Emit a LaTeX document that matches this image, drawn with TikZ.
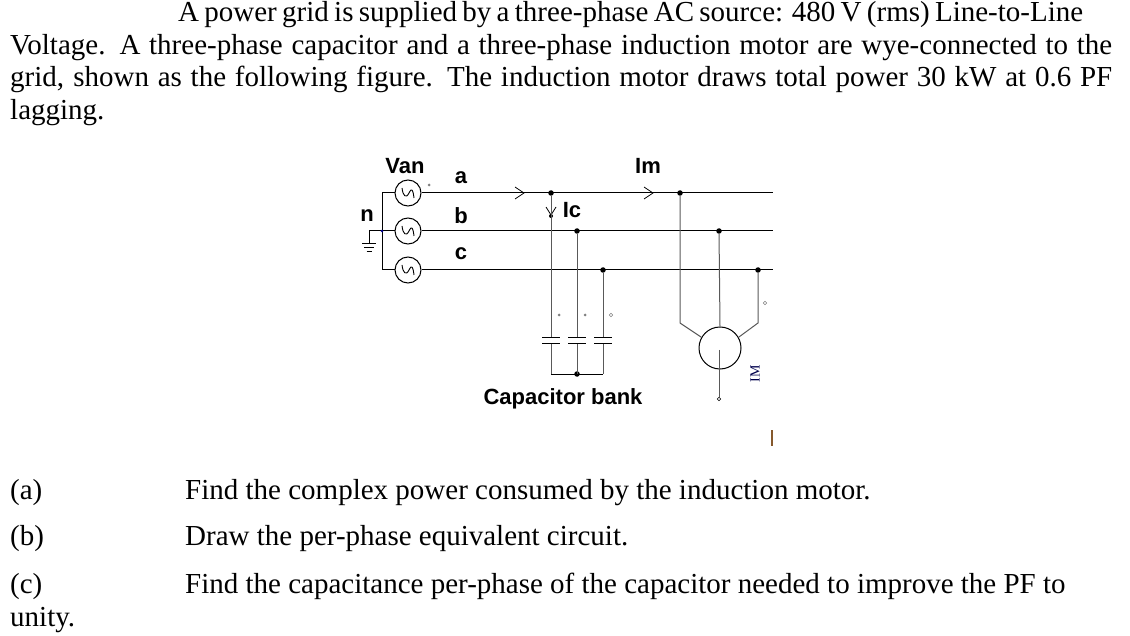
\documentclass[tikz,border=0pt]{standalone}
\usepackage{fontspec}
\setmainfont{Liberation Serif}
\newfontfamily\arialf{Liberation Sans}
\begin{document}
\begin{tikzpicture}[x=1pt,y=-1pt,
  txt/.style={anchor=base west,inner sep=0pt,font=\fontsize{29}{32}\selectfont},
  lbl/.style={inner sep=0pt,font=\arialf\bfseries\fontsize{22}{24}\selectfont},
  wire/.style={line width=1pt},
  dot/.style={circle,fill,inner sep=0pt,minimum size=5.5pt},
  term/.style={circle,draw,inner sep=0pt,minimum size=3.5pt,line width=0.6pt},
  src/.style={circle,draw,line width=1pt,minimum size=26pt,inner sep=0pt}]
\useasboundingbox (0,0) rectangle (1130,636);
% paragraph
\node[txt] (l1) at (178,22) {\makebox[905pt][s]{A power grid is supplied by a three-phase AC source: 480 V (rms) Line-to-Line}};
\node[txt] (l2) at (10,55) {\makebox[1102pt][s]{Voltage. A three-phase capacitor and a three-phase induction motor are wye-connected to the}};
\node[txt] (l3) at (10,87) {\makebox[1102pt][s]{grid, shown as the following figure. The induction motor draws total power 30 kW at 0.6 PF}};
\node[txt] (l4) at (10,120) {lagging.};
% questions
\node[txt] (qa) at (10,499) {(a)};
\node[txt] (ta) at (185,499) {Find the complex power consumed by the induction motor.};
\node[txt] (qb) at (10,545) {(b)};
\node[txt] (tb) at (185,545) {Draw the per-phase equivalent circuit.};
\node[txt] (qc) at (10,593) {(c)};
\node[txt] (tc) at (185,593) {Find the capacitance per-phase of the capacitor needed to improve the PF to};
\node[txt] (qd) at (10,626) {unity.};
% sources
\foreach \n/\y in {sa/193,sb/231,sc/270}{
  \node[src] (\n) at (408,\y) {};
  \draw[line width=0.9pt] ([xshift=-6pt,yshift=5pt]\n.center) .. controls +(1pt,-8pt) and +(-3pt,-6pt) .. ([xshift=1pt]\n.center) .. controls +(3pt,6pt) and +(-1pt,8pt) .. ([xshift=6pt,yshift=-5pt]\n.center);
}
\coordinate (nt) at (382,193);
\coordinate (nb) at (382,270);
\coordinate (nn) at (382,231);
\coordinate (g0) at (369,231);
\coordinate (g1) at (369,244);
\draw[wire] (sa.west) -- (nt) -- (nb) -- (sc.west);
\draw[wire] (sb.west) -- (nn);
\draw[wire] (nn) -- (g0) -- (g1);
\draw[wire] (362,244) -- (376,244) (364,248) -- (374,248) (366.5,252) -- (371.5,252);
\fill[blue!60!black] (nn) circle (1.3pt);
% lines
\coordinate (ea) at (773,193);
\coordinate (eb) at (773,231);
\coordinate (ec) at (773,270);
\draw[wire] (sa.east) -- (ea);
\draw[wire] (sb.east) -- (eb);
\draw[wire] (sc.east) -- (ec);
\draw[line width=0.8pt] (515,187) -- (524,193) -- (515,199);
\draw[line width=0.8pt] (644,187) -- (653,193) -- (644,199);
\node[circle,fill=gray,inner sep=0pt,minimum size=3pt] (sd) at (429,185) {};
% capacitors
\node[dot] (ca) at (551,193) {};
\node[dot] (cb) at (577,231) {};
\node[dot] (cc) at (603,270) {};
\node[dot] (cn) at (577,374) {};
\node[circle,fill,inner sep=0pt,minimum size=4pt] (ic) at (551,216) {};
\draw[line width=0.8pt] (546,207) -- (551,215) -- (556,207);
\foreach \c/\x in {ca/551,cb/577,cc/603}{
  \draw[wire,gray!70!black] (\c) -- (\x,338);
  \draw[wire] (\x-9,338) -- (\x+9,338) (\x-9,344) -- (\x+9,344);
  \draw[wire,gray!70!black] (\x,344) -- (\x,374);
}
\draw[wire] (551,374) -- (603,374);
\node[circle,fill=gray,inner sep=0pt,minimum size=3pt] (m1) at (559,315) {};
\node[circle,fill=gray,inner sep=0pt,minimum size=3pt] (m2) at (585,315) {};
\node[term,gray] (m3) at (611,315) {};
% motor
\node[dot] (ma) at (680,193) {};
\node[dot] (mb) at (719,231) {};
\node[dot] (mc) at (758,270) {};
\node[circle,draw,line width=1pt,minimum size=42pt,inner sep=0pt] (mot) at (720,348) {};
\draw[wire,gray!70!black] (ma) -- (680,323) -- (mot.150);
\draw[wire,gray!70!black] (mb) -- (mot.north);
\draw[wire,gray!70!black] (mc) -- (758,323) -- (mot.30);
\node[term] (mt) at (719,399) {};
\draw[wire,gray!70!black] (719,350) -- (mt);
\node[term,gray] (m4) at (765,303) {};
\node[inner sep=0pt,rotate=90,font=\fontsize{14}{15}\selectfont,text=blue!30!black] (im) at (755,374) {IM};
\draw[line width=1.2pt,brown!70!black] (772,430) -- (772,446);
% labels
\node[lbl] (tvan) at (405,166) {Van};
\node[lbl] (ta1) at (461,178) {a};
\node[lbl] (tb1) at (461,216) {b};
\node[lbl] (tc1) at (461,254) {c};
\node[lbl] (tn) at (367,216) {n};
\node[lbl] (tim) at (648,166) {Im};
\node[lbl] (tic) at (572,210) {Ic};
\node[lbl] (tcb) at (563,399) {Capacitor bank};
\end{tikzpicture}
\end{document}
